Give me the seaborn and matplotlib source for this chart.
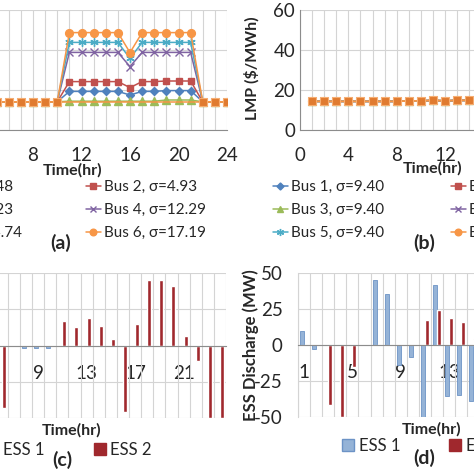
import numpy as np
import pandas as pd
import seaborn as sns
import matplotlib.pyplot as plt
from matplotlib.lines import Line2D
from matplotlib.patches import Patch

# ---- data ----
hours = list(range(1, 25))
nan = np.nan

# (a) LMP by bus ($/MWh)
bus1_a = [14.1, 14.1, 14.1, 14.1, 14.1, 14.1, 14.1, 14.1, 14.1, 14.1, 19.3, 19.3,
          19.3, 19.3, 19.3, 17.5, 19.3, 19.3, 19.7, 19.7, 19.7, 14.1, 14.1, 14.1]
bus2_a = [14.1, 14.1, 14.1, 14.1, 14.1, 14.1, 14.1, 14.1, 14.1, 14.1, 24.2, 24.2,
          24.2, 24.2, 24.2, 21.2, 24.2, 24.2, 24.5, 24.5, 24.5, 14.1, 14.1, 14.1]
bus3_a = [14.1, 14.1, 14.1, 14.1, 14.1, 14.1, 14.1, 14.1, 14.1, 14.1, 14.4, 14.4,
          14.4, 14.4, 14.4, 14.4, 14.4, 14.4, 15.0, 15.0, 15.0, 14.1, 14.1, 14.1]
bus4_a = [14.1, 14.1, 14.1, 14.1, 14.1, 14.1, 14.1, 14.1, 14.1, 14.1, 38.8, 38.8,
          38.8, 38.8, 38.8, 31.7, 38.8, 38.8, 38.8, 38.8, 38.8, 14.1, 14.1, 14.1]
bus5_a = [14.1, 14.1, 14.1, 14.1, 14.1, 14.1, 14.1, 14.1, 14.1, 14.1, 43.8, 43.8,
          43.8, 43.8, 43.8, 35.8, 43.8, 43.8, 43.8, 43.8, 43.8, 14.1, 14.1, 14.1]
bus6_a = [14.1, 14.1, 14.1, 14.1, 14.1, 14.1, 14.1, 14.1, 14.1, 14.1, 48.7, 48.7,
          48.7, 48.7, 48.7, 38.7, 48.7, 48.7, 48.7, 48.7, 48.7, 14.1, 14.1, 14.1]
# uniform price shown with square markers (off-peak hours only)
uniform_a = [14.1, 14.1, 14.1, 14.1, 14.1, 14.1, 14.1, 14.1, 14.1, 14.1, nan, nan,
             nan, nan, nan, nan, nan, nan, nan, nan, nan, 14.1, 14.1, 14.1]
sigma_a = ["2.48", "4.93", "0.23", "12.29", "14.74", "17.19"]

# (b) LMP, identical at every bus
lmp_b = [14.3, 14.3, 14.3, 14.3, 14.3, 14.3, 14.3, 14.3, 14.6, 14.6, 14.8, 14.6,
         14.8, 14.8, 14.8, 14.8, 14.8, 14.8, 14.8, 14.8, 14.8, 14.6, 14.6, 14.3]
sigma_b = ["9.40", "9.40", "9.40", "9.40", "9.40", "9.40"]

# (c), (d) ESS discharge (MW)
ess1_c = [0, 0, 0, 0, 0, 0, 0, -2, -2, -2, 0, 0,
          0, 0, 0, 0, 0, 0, 0, 0, 0, 0, 0, 0]
ess2_c = [0, 0, 0, 0, 0, -43, 0, 0, 0, 0, 17, 13,
          19, 13.5, 4.5, -46, 15, 45, 45, 41, 6.5, -11, -50, -50]
ess1_d = [10, -3, 0, 0, 0, 0, 45, 35.5, -14, -8.4, -50, 41.4,
          -35.4, -34.7, -38.7, -40, 30, 20, 25, 30, 5, -10, -45, -45]
ess2_d = [0, 0, -42, -50, -15, 0, 0, 0, 0, 0, 17.6, 24.2,
          19, 15.8, 4.2, -45, 15, 40, 40, 35, 5, -10, -50, -50]
hour_labels = ["1", "5", "9", "13", "17", "21"]

bus_names = ["Bus 1", "Bus 2", "Bus 3", "Bus 4", "Bus 5", "Bus 6"]
bus_colors = ["#4F81BD", "#C0504D", "#9BBB59", "#8064A2", "#4BACC6", "#F79646"]
bus_markers = ["D", "s", "^", "x", (6, 2, 0), "o"]
bus_msize = [4.2, 5.0, 5.2, 5.2, 6.0, 5.6]
ess_colors = ["#95B3D7", "#A0282D"]

# ---- style ----
sns.set_style("white")
plt.rcParams["font.family"] = ["Lato", "DejaVu Sans"]
plt.rcParams["axes.unicode_minus"] = False
GRID = "#D4D4D4"
AXIS = "#8C8C8C"
TICK_FS = 13.5
LEG_FS = 11

W = H = 474
fig = plt.figure(figsize=(4.74, 4.74), dpi=100)


def box(x0, y0, x1, y1):
    return [x0 / W, 1 - y1 / H, (x1 - x0) / W, (y1 - y0) / H]


def fxy(x, y):
    return (x / W, 1 - y / H)


def style_line_ax(ax):
    ax.set_xlim(0, 24)
    ax.set_ylim(0, 60)
    ax.set_xticks(range(0, 25, 4))
    ax.set_xticks(range(0, 25), minor=True)
    ax.set_yticks([0, 20, 40, 60])
    ax.grid(True, which="both", color=GRID, lw=0.8)
    ax.set_axisbelow(True)
    for s in ["top", "right"]:
        ax.spines[s].set_visible(False)
    for s in ["left", "bottom"]:
        ax.spines[s].set_color(AXIS)
        ax.spines[s].set_linewidth(0.8)
    ax.tick_params(axis="x", which="both", length=3, color=AXIS, pad=9.5,
                   labelsize=TICK_FS)
    ax.tick_params(axis="y", length=0, pad=3.5, labelsize=TICK_FS)
    ax.set_xlabel("")
    ax.set_ylabel("")


def style_bar_ax(ax):
    ax.set_xlim(-0.5, 23.5)
    ax.set_ylim(-50, 50)
    ax.set_xticks(range(0, 24, 4), hour_labels)
    ax.set_xticks(np.arange(-0.5, 24, 1), minor=True)
    ax.set_yticks([-50, -25, 0, 25, 50])
    ax.grid(False)
    ax.grid(True, axis="x", which="minor", color=GRID, lw=0.8)
    ax.grid(True, axis="y", which="major", color=GRID, lw=0.8)
    ax.set_axisbelow(True)
    for s in ["top", "right"]:
        ax.spines[s].set_visible(False)
    ax.spines["bottom"].set_position(("data", 0))
    ax.spines["bottom"].set_color(AXIS)
    ax.spines["left"].set_color(GRID)
    ax.tick_params(axis="x", which="major", length=0, pad=14, labelsize=TICK_FS)
    ax.tick_params(axis="x", which="minor", length=3.5, color=AXIS)
    ax.tick_params(axis="y", length=0, pad=11, labelsize=TICK_FS)
    ax.set_xlabel("")
    ax.set_ylabel("")


def draw_lines(ax, series, square_series):
    for vals, name, c, m, ms in zip(series, bus_names, bus_colors, bus_markers, bus_msize):
        sns.lineplot(x=hours, y=vals, ax=ax, color=c, marker=m, markersize=ms,
                     markeredgecolor=c, markeredgewidth=1.0, linewidth=1.1, legend=False)
    sns.lineplot(x=hours, y=square_series, ax=ax, color="#F79646", marker="s",
                 markersize=5.6, markerfacecolor="#E07B30", markeredgecolor="#F6AE72",
                 markeredgewidth=0.8, linewidth=1.1, legend=False)


def bus_handles(idx, sigmas):
    hs = []
    for i in idx:
        hs.append(Line2D([0], [0], color=bus_colors[i], marker=bus_markers[i],
                         markersize=bus_msize[i] * 0.85, markeredgecolor=bus_colors[i],
                         lw=1.1, label=f"{bus_names[i]}, σ={sigmas[i]}"))
    return hs


def add_bus_legends(ax, sigmas, left_anchor, right_anchor, left_loc):
    kw = dict(frameon=False, fontsize=LEG_FS, handlelength=0.95, handletextpad=0.25,
              labelspacing=0.6, borderpad=0, borderaxespad=0,
              bbox_transform=fig.transFigure)
    l1 = ax.legend(handles=bus_handles([0, 2, 4], sigmas), loc=left_loc,
                   bbox_to_anchor=fxy(*left_anchor), **kw)
    ax.add_artist(l1)
    ax.legend(handles=bus_handles([1, 3, 5], sigmas), loc="upper left",
              bbox_to_anchor=fxy(*right_anchor), **kw)


# ---- (a) ----
ax_a = fig.add_axes(box(-64, 10, 227, 130))
draw_lines(ax_a, [bus1_a, bus2_a, bus3_a, bus4_a, bus5_a, bus6_a], uniform_a)
style_line_ax(ax_a)
add_bus_legends(ax_a, sigma_a, (22, 180), (86, 180), "upper right")

# ---- (b) ----
ax_b = fig.add_axes(box(300, 10, 590, 130))
draw_lines(ax_b, [lmp_b] * 6, lmp_b)
style_line_ax(ax_b)
add_bus_legends(ax_b, sigma_b, (273, 180), (451, 180), "upper left")


# ---- (c), (d) ----
def draw_bars(ax, e1, e2):
    df = pd.DataFrame({"hour": hours + hours, "MW": e1 + e2,
                       "ESS": ["ESS 1"] * 24 + ["ESS 2"] * 24})
    sns.barplot(data=df, x="hour", y="MW", hue="ESS", palette=ess_colors,
                width=0.66, saturation=1, ax=ax, legend=False)
    for p in ax.containers[0]:
        p.set_edgecolor("#6C93C6")
        p.set_linewidth(0.6)
    style_bar_ax(ax)


def ess_legend(ax, anchor, loc):
    hs = [Patch(facecolor=ess_colors[0], edgecolor="#6C93C6", label="ESS 1"),
          Patch(facecolor=ess_colors[1], edgecolor=ess_colors[1], label="ESS 2")]
    ax.legend(handles=hs, loc=loc, bbox_to_anchor=fxy(*anchor),
              bbox_transform=fig.transFigure, ncol=2, frameon=False,
              fontsize=LEG_FS + 1, handlelength=0.7, handleheight=0.7,
              handletextpad=0.3, columnspacing=2.95, borderpad=0, borderaxespad=0)


ax_c = fig.add_axes(box(-65, 273, 226, 418))
draw_bars(ax_c, ess1_c, ess2_c)
ess_legend(ax_c, (152, 442), "upper right")

ax_d = fig.add_axes(box(298, 273, 588, 417))
draw_bars(ax_d, ess1_d, ess2_d)
ess_legend(ax_d, (342, 438), "upper left")

# ---- axis titles and panel tags ----
tb = dict(fontsize=11.5, fontweight="bold", ha="center", va="center")
fig.text(*fxy(73, 170), "Time(hr)", **tb)
fig.text(*fxy(433, 168), "Time(hr)", **tb)
fig.text(*fxy(72, 430), "Time(hr)", **tb)
fig.text(*fxy(432, 429), "Time(hr)", **tb)
fig.text(*fxy(252, 68), "LMP ($/MWh)", rotation=90, **tb)
fig.text(*fxy(251, 345), "ESS Discharge (MW)", rotation=90,
         fontsize=12, fontweight="bold", ha="center", va="center")
tag = dict(fontsize=14, fontweight="bold", ha="center", va="center")
fig.text(*fxy(61, 243), "(a)", **tag)
fig.text(*fxy(424, 243), "(b)", **tag)
fig.text(*fxy(62, 460), "(c)", **tag)
fig.text(*fxy(424, 458), "(d)", **tag)

fig.savefig("out.png", dpi=100)
